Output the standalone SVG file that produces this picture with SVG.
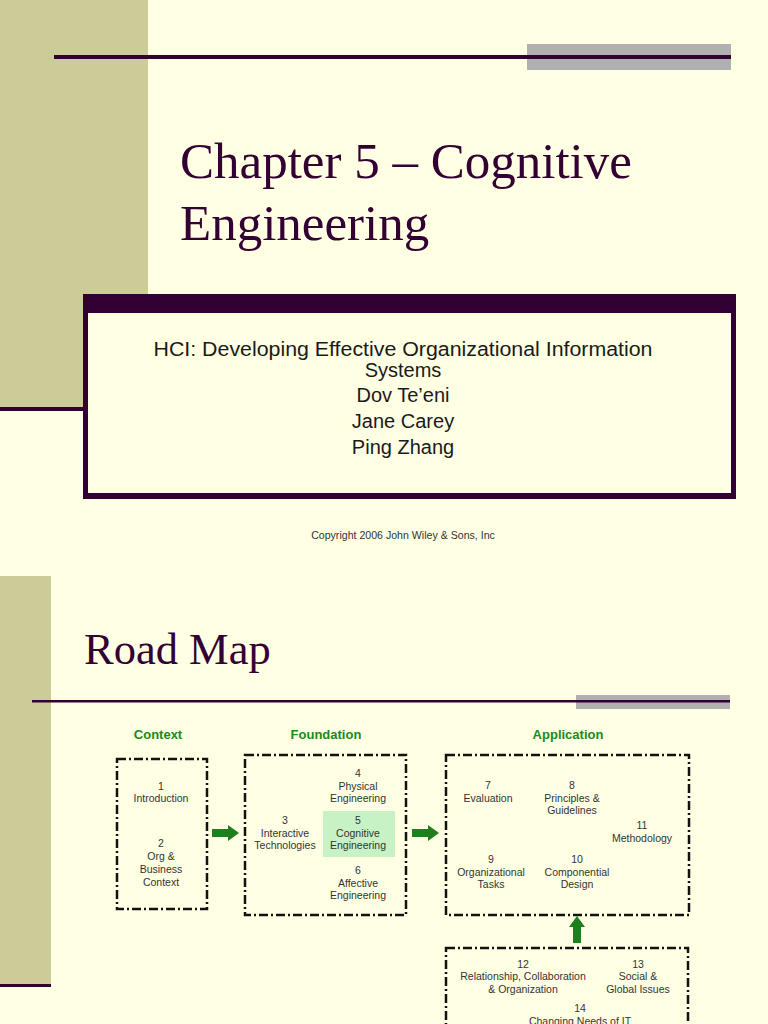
<svg xmlns="http://www.w3.org/2000/svg" width="768" height="1024" viewBox="0 0 768 1024">
<defs>
<style>
.title{font-family:"Liberation Serif","Times New Roman",serif;fill:#330033}
.sub{font-family:"Liberation Sans",Arial,sans-serif;fill:#1a1a1a;font-size:20px;text-anchor:middle}
.lbl{font-family:"Liberation Sans",Arial,sans-serif;fill:#333;font-size:10.5px;text-anchor:middle}
.hdr{font-family:"Liberation Sans",Arial,sans-serif;fill:#1a8a1a;font-size:13px;font-weight:bold;text-anchor:middle}
.dd{fill:none;stroke:#111;stroke-width:2.5;stroke-dasharray:9 3 2 3}
.arr{fill:#1f7f1f}
</style>
</defs>
<rect x="0" y="0" width="768" height="1024" fill="#FFFFE3"/>
<!-- slide 1 -->
<rect x="0" y="0" width="148" height="408" fill="#CCCC99"/>
<rect x="527" y="44" width="204" height="26" fill="#B0B0B0"/>
<rect x="54" y="55" width="677" height="4" fill="#330033"/>
<rect x="0" y="407" width="86" height="4" fill="#330033"/>
<text class="title" x="180" y="178" font-size="51">Chapter 5 – Cognitive</text>
<text class="title" x="180" y="240" font-size="51">Engineering</text>
<g id="subtitle-box">
<rect x="83" y="294" width="653" height="205" fill="#330033"/>
<rect x="88" y="313" width="643" height="180" fill="#FFFFE3"/>
<text class="sub" x="403" y="356" textLength="499" lengthAdjust="spacingAndGlyphs">HCI: Developing Effective Organizational Information</text>
<text class="sub" x="403" y="377">Systems</text>
<text class="sub" x="403" y="402">Dov Te’eni</text>
<text class="sub" x="403" y="428">Jane Carey</text>
<text class="sub" x="403" y="454">Ping Zhang</text>
</g>
<text x="403" y="539" font-family="Liberation Sans,Arial,sans-serif" font-size="10.6" fill="#333" text-anchor="middle">Copyright 2006 John Wiley &amp; Sons, Inc</text>
<!-- slide 2 -->
<rect x="0" y="576" width="51" height="409" fill="#CCCC99"/>
<rect x="0" y="984" width="51" height="3" fill="#330033"/>
<rect x="576" y="695" width="154" height="14" fill="#B0B0B0"/>
<rect x="32" y="700" width="698" height="2.5" fill="#330033"/>
<text class="title" x="84" y="664" font-size="44.5">Road Map</text>
<text class="hdr" x="158" y="739">Context</text>
<text class="hdr" x="326" y="739">Foundation</text>
<text class="hdr" x="568" y="739">Application</text>
<g id="context">
<rect class="dd" x="117" y="759" width="90" height="150"/>
<text class="lbl" x="161" y="790">1</text>
<text class="lbl" x="161" y="802">Introduction</text>
<text class="lbl" x="161" y="847">2</text>
<text class="lbl" x="161" y="860">Org &amp;</text>
<text class="lbl" x="161" y="873">Business</text>
<text class="lbl" x="161" y="886">Context</text>
</g>
<g id="foundation">
<rect class="dd" x="245" y="755" width="161" height="160"/>
<rect x="323" y="811" width="72" height="46" fill="#C6F2C6"/>
<text class="lbl" x="358" y="777">4</text>
<text class="lbl" x="358" y="790">Physical</text>
<text class="lbl" x="358" y="802">Engineering</text>
<text class="lbl" x="285" y="824">3</text>
<text class="lbl" x="285" y="837">Interactive</text>
<text class="lbl" x="285" y="849">Technologies</text>
<text class="lbl" x="358" y="824">5</text>
<text class="lbl" x="358" y="837">Cognitive</text>
<text class="lbl" x="358" y="849">Engineering</text>
<text class="lbl" x="358" y="874">6</text>
<text class="lbl" x="358" y="887">Affective</text>
<text class="lbl" x="358" y="899">Engineering</text>
</g>
<g id="application">
<rect class="dd" x="446" y="755" width="243" height="160"/>
<text class="lbl" x="488" y="789">7</text>
<text class="lbl" x="488" y="802">Evaluation</text>
<text class="lbl" x="572" y="789">8</text>
<text class="lbl" x="572" y="802">Principles &amp;</text>
<text class="lbl" x="572" y="814">Guidelines</text>
<text class="lbl" x="642" y="829">11</text>
<text class="lbl" x="642" y="842">Methodology</text>
<text class="lbl" x="491" y="863">9</text>
<text class="lbl" x="491" y="876">Organizational</text>
<text class="lbl" x="491" y="888">Tasks</text>
<text class="lbl" x="577" y="863">10</text>
<text class="lbl" x="577" y="876">Componential</text>
<text class="lbl" x="577" y="888">Design</text>
</g>
<g id="outer-issues">
<rect class="dd" x="446" y="948" width="242" height="100"/>
<text class="lbl" x="523" y="968">12</text>
<text class="lbl" x="523" y="980">Relationship, Collaboration</text>
<text class="lbl" x="523" y="993">&amp; Organization</text>
<text class="lbl" x="638" y="968">13</text>
<text class="lbl" x="638" y="980">Social &amp;</text>
<text class="lbl" x="638" y="993">Global Issues</text>
<text class="lbl" x="580" y="1012">14</text>
<text class="lbl" x="580" y="1025">Changing Needs of IT</text>
</g>
<g id="connectors">
<path class="arr" d="M212,829 H228 V825 L239,833 L228,841 V837 H212 Z"/>
<path class="arr" d="M412,829 H428 V825 L439,833 L428,841 V837 H412 Z"/>
<path class="arr" d="M573,943 V927 H569 L577,916 L585,927 H581 V943 Z"/>
</g>
</svg>
